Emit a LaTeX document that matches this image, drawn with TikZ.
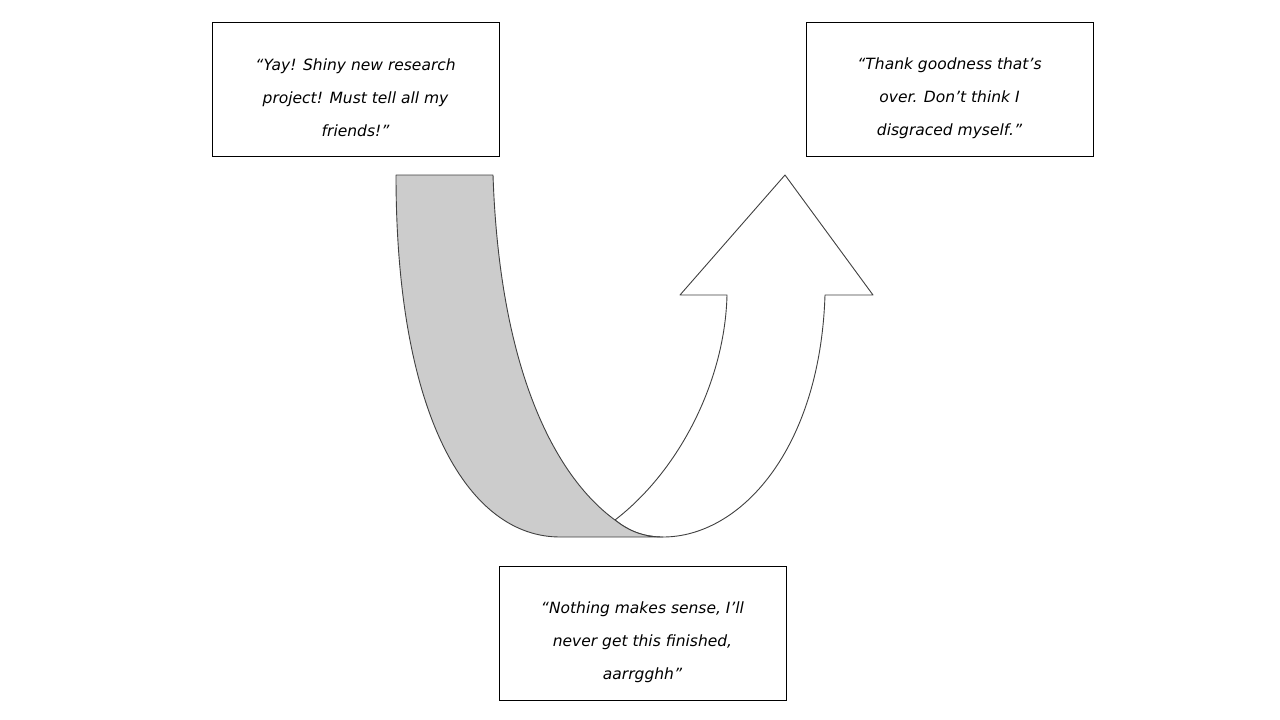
\documentclass[tikz,border=0pt]{standalone}
\usepackage{fontspec}
\setmainfont{DejaVu Sans}
\begin{document}
\begin{tikzpicture}[x=1pt,y=-1pt,
  box/.style={draw=black,line width=0.8pt,minimum width=287pt,minimum height=134pt,inner sep=0pt},
  txt/.style={align=center,inner sep=0pt,font=\fontsize{15.5}{33}\selectfont\itshape},
  ushape/.style={draw=black!75,line width=0.9pt,line join=round}]
\useasboundingbox (0,0) rectangle (1280,720);
\node[box] (a) at (355.5,89) {};
\node[box] (b) at (949.5,89) {};
\node[box] (c) at (642.5,633) {};
\node[txt] (at) at ([yshift=-9pt]a.center) {``Yay! Shiny new research\\project! Must tell all my\\friends!''};
\node[txt] (bt) at ([yshift=-9pt]b.center) {``Thank goodness that's\\over. Don't think I\\disgraced myself.''};
\node[txt] (ct) at ([yshift=-9pt]c.center) {``Nothing makes sense, I'll\\never get this finished,\\aarrgghh''};
\draw[ushape,fill=white] (615,520) .. controls (680,470) and (725,380) .. (727,295) -- (680,295) -- (785,175) -- (873,295) -- (825,295)
  .. controls (820,450) and (740,537) .. (663,537) .. controls (645,537) and (630,532) .. (615,520) -- cycle;
\draw[ushape,fill=black!20] (396,175) -- (493,175) .. controls (500,380) and (560,480) .. (615,520)
  .. controls (630,532) and (645,537) .. (663,537) -- (560,537) .. controls (470,537) and (396,420) .. (396,175) -- cycle;
\end{tikzpicture}
\end{document}
